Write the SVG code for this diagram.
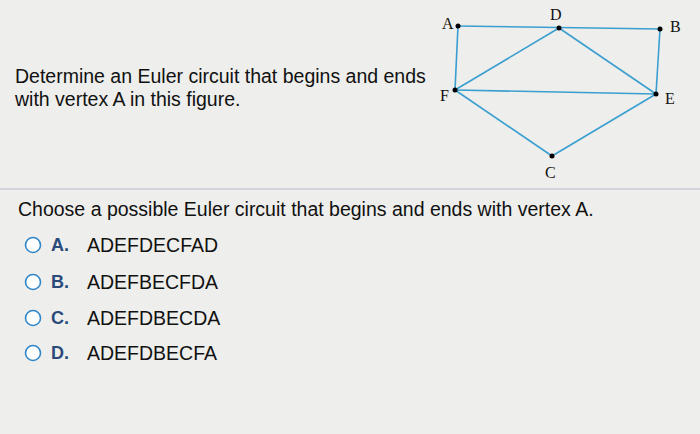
<svg xmlns="http://www.w3.org/2000/svg" width="700" height="434" viewBox="0 0 700 434">
<style>
.t{font-family:"Liberation Sans",Arial,sans-serif;font-size:19.5px;fill:#111}
.l{font-family:"Liberation Serif","Times New Roman",serif;font-size:16px;fill:#111}
.e{stroke:#3a9fd0;stroke-width:1.6;fill:none}
.r{fill:#fff;stroke:#2f86c9;stroke-width:1.6}
.b{font-family:"Liberation Sans",Arial,sans-serif;font-size:18px;fill:#2a4a7a;font-weight:bold}
</style>
<rect width="700" height="434" fill="#eeeeec"/>
<line x1="0" y1="189" x2="700" y2="189" stroke="#c8ccd6" stroke-width="1.5"/>
<text class="t" x="15" y="83">Determine an Euler circuit that begins and ends</text>
<text class="t" x="15" y="106">with vertex A in this figure.</text>
<g id="edges">
<line class="e" x1="458" y1="26" x2="660" y2="29"/>
<line class="e" x1="458" y1="26" x2="455" y2="90"/>
<line class="e" x1="660" y1="29" x2="656" y2="94"/>
<line class="e" x1="559" y1="28" x2="455" y2="90"/>
<line class="e" x1="559" y1="28" x2="656" y2="94"/>
<line class="e" x1="455" y1="90" x2="656" y2="94"/>
<line class="e" x1="455" y1="90" x2="552" y2="156"/>
<line class="e" x1="656" y1="94" x2="552" y2="156"/>
</g>
<g id="A"><circle cx="458" cy="26" r="2.5"/><text class="l" x="442" y="29">A</text></g>
<g id="D"><circle cx="559" cy="28" r="2.5"/><text class="l" x="550" y="20">D</text></g>
<g id="B"><circle cx="660" cy="29" r="2.5"/><text class="l" x="670" y="32">B</text></g>
<g id="F"><circle cx="455" cy="90" r="2.5"/><text class="l" x="440" y="101">F</text></g>
<g id="E"><circle cx="656" cy="94" r="2.5"/><text class="l" x="665" y="104">E</text></g>
<g id="C"><circle cx="552" cy="156" r="2.5"/><text class="l" x="545" y="178">C</text></g>
<text class="t" x="18" y="216">Choose a possible Euler circuit that begins and ends with vertex A.</text>
<circle class="r" cx="33" cy="245" r="7.5"/><text class="b" x="51" y="251">A.</text><text class="t" x="87" y="252">ADEFDECFAD</text>
<circle class="r" cx="33" cy="282" r="7.5"/><text class="b" x="51" y="288">B.</text><text class="t" x="87" y="289">ADEFBECFDA</text>
<circle class="r" cx="33" cy="318" r="7.5"/><text class="b" x="51" y="324">C.</text><text class="t" x="87" y="325">ADEFDBECDA</text>
<circle class="r" cx="33" cy="353" r="7.5"/><text class="b" x="51" y="359">D.</text><text class="t" x="87" y="360">ADEFDBECFA</text>
</svg>
